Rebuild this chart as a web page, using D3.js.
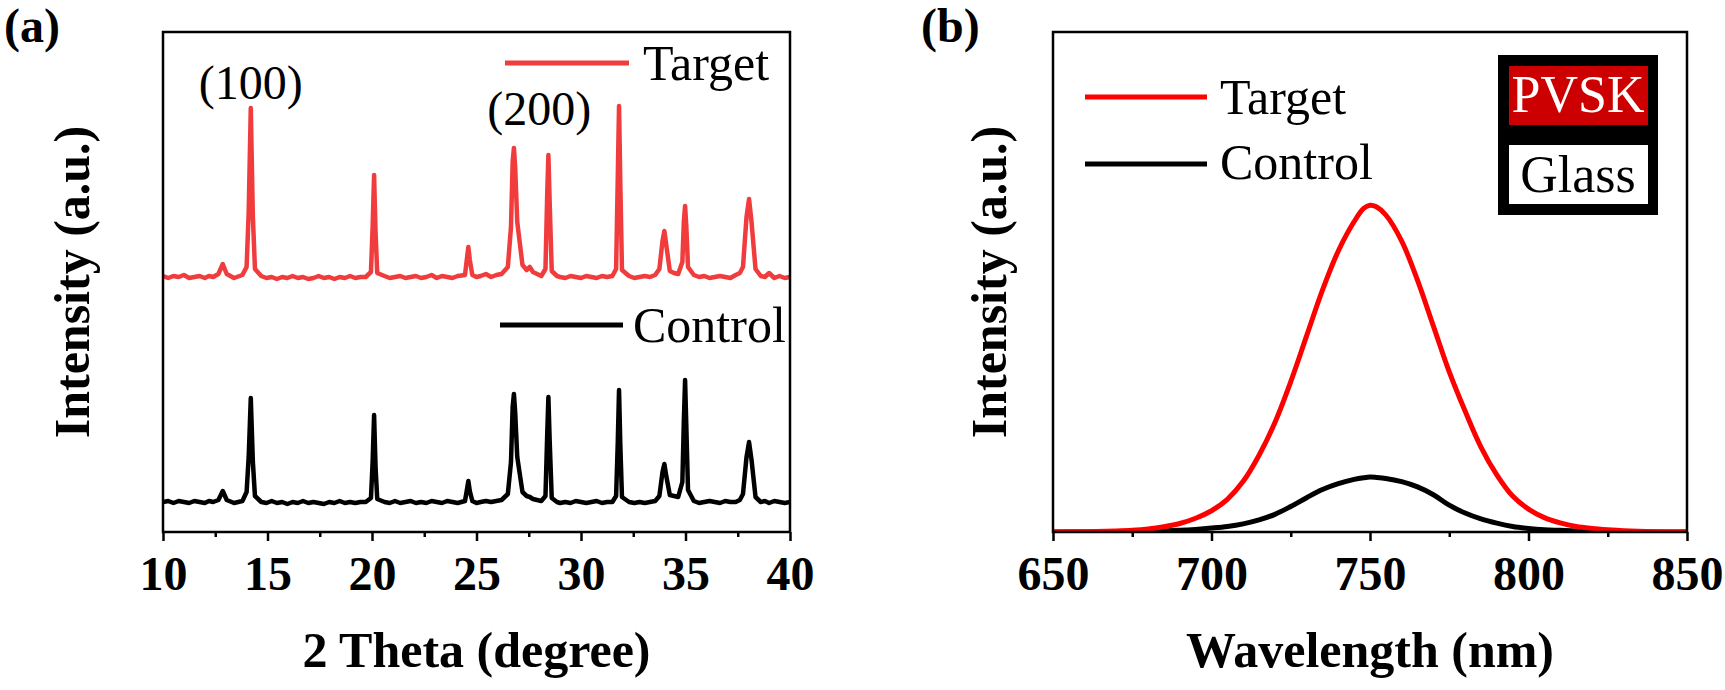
<!DOCTYPE html>
<html>
<head>
<meta charset="utf-8">
<script src="https://d3js.org/d3.v7.min.js"></script>
<style>
body { margin: 0; background: #fff; }
svg text { font-family: "Liberation Serif", "Times New Roman", serif; fill: #000; }
</style>
</head>
<body>
<div id="chart"></div>
<script>
// ---- panel (a): XRD ----
var thetaXRD = [
  10.0, 10.25, 10.5, 10.75, 11.0, 11.25, 11.5, 11.75, 12.0, 12.2, 12.4,
  12.65, 12.86, 13.05, 13.4, 13.8, 14.0, 14.1, 14.2, 14.3, 14.4,
  14.7, 14.95, 15.2, 15.45, 15.7, 15.95, 16.2, 16.45, 16.7, 16.95, 17.2, 17.45, 17.7, 17.95, 18.2, 18.45, 18.7, 18.95, 19.2, 19.45, 19.7,
  19.95, 20.03, 20.1, 20.17, 20.25,
  20.6, 20.85, 21.1, 21.35, 21.6, 21.85, 22.1, 22.35, 22.6, 22.85, 23.1, 23.35, 23.6, 23.85, 24.1,
  24.45, 24.54, 24.61, 24.68, 24.8, 25.0, 25.2, 25.45, 25.7, 25.95, 26.2,
  26.5, 26.65, 26.73, 26.79, 26.85, 26.95, 27.2, 27.4, 27.55, 27.7, 27.9, 28.1, 28.3, 28.38, 28.44, 28.5, 28.6,
  28.85, 29.0, 29.25, 29.5, 29.75, 30.0, 30.25, 30.5, 30.75, 31.0, 31.25, 31.5,
  31.68, 31.76, 31.82, 31.88, 31.96,
  32.3, 32.55, 32.8, 33.05, 33.3, 33.55,
  33.75, 33.9, 33.99, 34.08, 34.25, 34.45, 34.65, 34.85, 34.92, 34.98, 35.04, 35.12,
  35.4, 35.65, 35.9, 36.15, 36.4, 36.65, 36.9, 37.15, 37.4, 37.6,
  37.75, 37.92, 38.04, 38.16, 38.35,
  38.6, 38.8, 39.0, 39.25, 39.5, 39.75, 40.0
]
var targetXRD = [
  31, 29, 31, 30, 32, 29, 30, 31, 29, 31, 30,
  33, 43, 33, 29, 32, 40, 95, 199, 90, 38,
  31, 29, 30, 28, 30, 29, 31, 29, 30, 28, 29, 31, 29, 30, 28, 30, 29, 31, 29, 30, 30,
  35, 80, 132, 75, 34,
  31, 29, 30, 31, 29, 30, 31, 29, 30, 32, 29, 31, 30, 29, 31,
  32, 48, 60, 47, 32, 30, 31, 33, 30, 32, 33,
  40, 80, 145, 159, 140, 85, 42, 37, 40, 35, 33, 31, 38, 110, 152, 105, 36,
  31, 30, 29, 31, 30, 29, 31, 30, 29, 31, 30, 31,
  38, 130, 201, 125, 37,
  31, 29, 30, 31, 30, 32,
  38, 66, 76, 62, 36, 34, 33, 45, 85, 101, 80, 40,
  32, 30, 31, 29, 30, 31, 30, 29, 32, 34,
  40, 90, 108, 85, 38,
  31, 30, 34, 29, 31, 29, 30
]
var controlXRD = [
  30, 31, 29, 31, 30, 29, 31, 30, 29, 31, 30,
  32, 41, 32, 29, 31, 40, 75, 134, 70, 36,
  30, 29, 31, 29, 30, 28, 30, 29, 31, 29, 30, 29, 28, 30, 29, 31, 29, 30, 29, 30, 30,
  34, 70, 117, 65, 33,
  30, 29, 31, 29, 30, 31, 29, 30, 29, 31, 30, 29, 31, 30, 29,
  31, 42, 51, 41, 31, 29, 30, 31, 30, 31, 32,
  38, 70, 125, 138, 120, 75, 40, 36, 35, 33, 32, 31, 36, 95, 135, 92, 34,
  30, 29, 30, 29, 31, 30, 29, 30, 31, 29, 30, 30,
  36, 90, 142, 88, 35,
  30, 29, 30, 29, 30, 31,
  36, 60, 68, 56, 37, 36, 35, 50, 110, 152, 105, 42,
  31, 29, 30, 31, 30, 29, 31, 30, 30, 32,
  38, 75, 90, 72, 35,
  30, 31, 29, 31, 30, 29, 30
]
var targetOffset = 225
var xrdTicks = [10, 15, 20, 25, 30, 35, 40]
var xrdMinorTicks = [12.5, 17.5, 22.5, 27.5, 32.5, 37.5]
var xrdPeakNames = ['(100)', '(200)']
var xrdPeakTheta = [14.2, 28.0]

// ---- panel (b): PL ----
var wavelengthPL = [650, 660, 670, 675, 680, 685, 690, 695, 700, 705,
  710, 715, 720, 725, 730, 735, 740, 745, 748, 750,
  752, 755, 760, 765, 770, 775, 780, 785, 790, 795,
  800, 805, 810, 815, 820, 825, 830, 840, 850]
var targetPL = [0, 0.001, 0.003, 0.005, 0.009, 0.016, 0.026, 0.042, 0.065, 0.1,
  0.155, 0.235, 0.335, 0.46, 0.6, 0.74, 0.86, 0.95, 0.99, 1.0,
  0.995, 0.97, 0.89, 0.77, 0.63, 0.49, 0.37, 0.26, 0.175, 0.11,
  0.07, 0.044, 0.028, 0.017, 0.011, 0.007, 0.004, 0.001, 0]
var controlPL = [0, 0, 0, 0.001, 0.002, 0.003, 0.005, 0.008, 0.012, 0.017,
  0.025, 0.037, 0.054, 0.078, 0.105, 0.13, 0.148, 0.161, 0.166, 0.168,
  0.167, 0.164, 0.154, 0.138, 0.114, 0.082, 0.058, 0.04, 0.027, 0.017,
  0.011, 0.007, 0.005, 0.003, 0.002, 0.001, 0.001, 0, 0]
var plTicks = [650, 700, 750, 800, 850]
var plMinorTicks = [675, 725, 775, 825]
var legendNames = ['Target', 'Control']
var layerNames = ['PVSK', 'Glass']

var W = 1725, H = 690
var plotTop = 32, plotBottom = 532

var svg = d3.select('#chart').append('svg')
  .attr('width', W).attr('height', H)
svg.append('rect').attr('width', W).attr('height', H).attr('fill', '#fff')

function bottomAxis(xs, major, minor) {
  var g = svg.append('g').attr('transform', 'translate(0,' + plotBottom + ')')
  g.call(d3.axisBottom(xs).tickValues(major).tickSize(9).tickSizeOuter(0))
  var gm = svg.append('g').attr('transform', 'translate(0,' + plotBottom + ')')
  gm.call(d3.axisBottom(xs).tickValues(minor).tickSize(5).tickSizeOuter(0).tickFormat(''))
  svg.selectAll('.domain').remove()
  g.selectAll('line').attr('stroke', '#000').attr('stroke-width', 2.5)
  gm.selectAll('line').attr('stroke', '#000').attr('stroke-width', 2.5)
  g.selectAll('text')
    .attr('y', 58).attr('dy', 0).attr('fill', '#000')
    .style('font-size', '48px').style('font-weight', 'bold')
    .style('font-family', '"Liberation Serif", "Times New Roman", serif')
}

function frame(x0, x1) {
  svg.append('rect')
    .attr('x', x0).attr('y', plotTop)
    .attr('width', x1 - x0).attr('height', plotBottom - plotTop)
    .attr('fill', 'none').attr('stroke', '#000').attr('stroke-width', 2.5)
}

function clip(id, x0, x1) {
  svg.append('clipPath').attr('id', id)
    .append('rect').attr('x', x0).attr('y', plotTop)
    .attr('width', x1 - x0).attr('height', plotBottom - plotTop)
}

// ===== panel (a) =====
var ax0 = 163, ax1 = 790
var xa = d3.scaleLinear().domain([10, 40]).range([ax0, ax1])
var ya = d3.scaleLinear().domain([0, 500]).range([plotBottom, plotTop])
clip('clipA', ax0, ax1)

var xrdLine = d3.line()
  .x(function(d) { return xa(d[0]) })
  .y(function(d) { return ya(d[1]) })

var controlPts = thetaXRD.map(function(t, i) { return [t, controlXRD[i]] })
var targetPts = thetaXRD.map(function(t, i) { return [t, targetXRD[i] + targetOffset] })

svg.append('path').datum(controlPts)
  .attr('clip-path', 'url(#clipA)')
  .attr('d', xrdLine).attr('fill', 'none')
  .attr('stroke', '#000').attr('stroke-width', 4.5).attr('stroke-linejoin', 'round')
svg.append('path').datum(targetPts)
  .attr('clip-path', 'url(#clipA)')
  .attr('d', xrdLine).attr('fill', 'none')
  .attr('stroke', '#f03c3c').attr('stroke-width', 4.5).attr('stroke-linejoin', 'round')

frame(ax0, ax1)
bottomAxis(xa, xrdTicks, xrdMinorTicks)

// peak labels
svg.append('text').attr('x', xa(xrdPeakTheta[0])).attr('y', 99)
  .attr('text-anchor', 'middle').style('font-size', '48px').text(xrdPeakNames[0])
svg.append('text').attr('x', xa(xrdPeakTheta[1])).attr('y', 125)
  .attr('text-anchor', 'middle').style('font-size', '48px').text(xrdPeakNames[1])

// legend (a)
svg.append('line').attr('x1', 505).attr('x2', 629).attr('y1', 63).attr('y2', 63)
  .attr('stroke', '#f03c3c').attr('stroke-width', 5)
svg.append('text').attr('x', 643).attr('y', 80).style('font-size', '50px').text(legendNames[0])
svg.append('line').attr('x1', 500).attr('x2', 623).attr('y1', 325).attr('y2', 325)
  .attr('stroke', '#000').attr('stroke-width', 5)
svg.append('text').attr('x', 633).attr('y', 342).style('font-size', '50px').text(legendNames[1])

svg.append('text').attr('x', (ax0 + ax1) / 2).attr('y', 667)
  .attr('text-anchor', 'middle').style('font-size', '50px').style('font-weight', 'bold')
  .text('2 Theta (degree)')
svg.append('text').attr('transform', 'translate(89,282) rotate(-90)')
  .attr('text-anchor', 'middle').style('font-size', '50px').style('font-weight', 'bold')
  .text('Intensity (a.u.)')
svg.append('text').attr('x', 4).attr('y', 42)
  .style('font-size', '48px').style('font-weight', 'bold').text('(a)')

// ===== panel (b) =====
var bx0 = 1053, bx1 = 1687
var xb = d3.scaleLinear().domain([650, 850]).range([bx0, bx1])
var yb = d3.scaleLinear().domain([0, 1.53]).range([plotBottom, plotTop])
clip('clipB', bx0, bx1)

var plLine = d3.line()
  .x(function(d) { return xb(d[0]) })
  .y(function(d) { return yb(d[1]) })
  .curve(d3.curveCatmullRom)

svg.append('path').datum(wavelengthPL.map(function(w, i) { return [w, controlPL[i]] }))
  .attr('clip-path', 'url(#clipB)')
  .attr('d', plLine).attr('fill', 'none')
  .attr('stroke', '#000').attr('stroke-width', 5)
svg.append('path').datum(wavelengthPL.map(function(w, i) { return [w, targetPL[i]] }))
  .attr('clip-path', 'url(#clipB)')
  .attr('d', plLine).attr('fill', 'none')
  .attr('stroke', '#ff0000').attr('stroke-width', 5)

frame(bx0, bx1)
bottomAxis(xb, plTicks, plMinorTicks)

// legend (b)
svg.append('line').attr('x1', 1085).attr('x2', 1207).attr('y1', 97).attr('y2', 97)
  .attr('stroke', '#ff0000').attr('stroke-width', 5)
svg.append('text').attr('x', 1220).attr('y', 114).style('font-size', '50px').text(legendNames[0])
svg.append('line').attr('x1', 1085).attr('x2', 1207).attr('y1', 164).attr('y2', 164)
  .attr('stroke', '#000').attr('stroke-width', 5)
svg.append('text').attr('x', 1220).attr('y', 179).style('font-size', '50px').text(legendNames[1])

// device sketch: PVSK on Glass
svg.append('rect').attr('x', 1498).attr('y', 55).attr('width', 160).attr('height', 160).attr('fill', '#000')
svg.append('rect').attr('x', 1509).attr('y', 66).attr('width', 139).attr('height', 59).attr('fill', '#cc0000')
svg.append('rect').attr('x', 1509).attr('y', 145).attr('width', 139).attr('height', 59).attr('fill', '#fff')
svg.append('text').attr('x', 1578).attr('y', 112).attr('text-anchor', 'middle')
  .style('font-size', '52px').style('fill', '#fff').text(layerNames[0])
svg.append('text').attr('x', 1578).attr('y', 192).attr('text-anchor', 'middle')
  .style('font-size', '52px').text(layerNames[1])

svg.append('text').attr('x', (bx0 + bx1) / 2).attr('y', 667)
  .attr('text-anchor', 'middle').style('font-size', '50px').style('font-weight', 'bold')
  .text('Wavelength (nm)')
svg.append('text').attr('transform', 'translate(1006,282) rotate(-90)')
  .attr('text-anchor', 'middle').style('font-size', '50px').style('font-weight', 'bold')
  .text('Intensity (a.u.)')
svg.append('text').attr('x', 921).attr('y', 42)
  .style('font-size', '48px').style('font-weight', 'bold').text('(b)')
</script>
</body>
</html>
